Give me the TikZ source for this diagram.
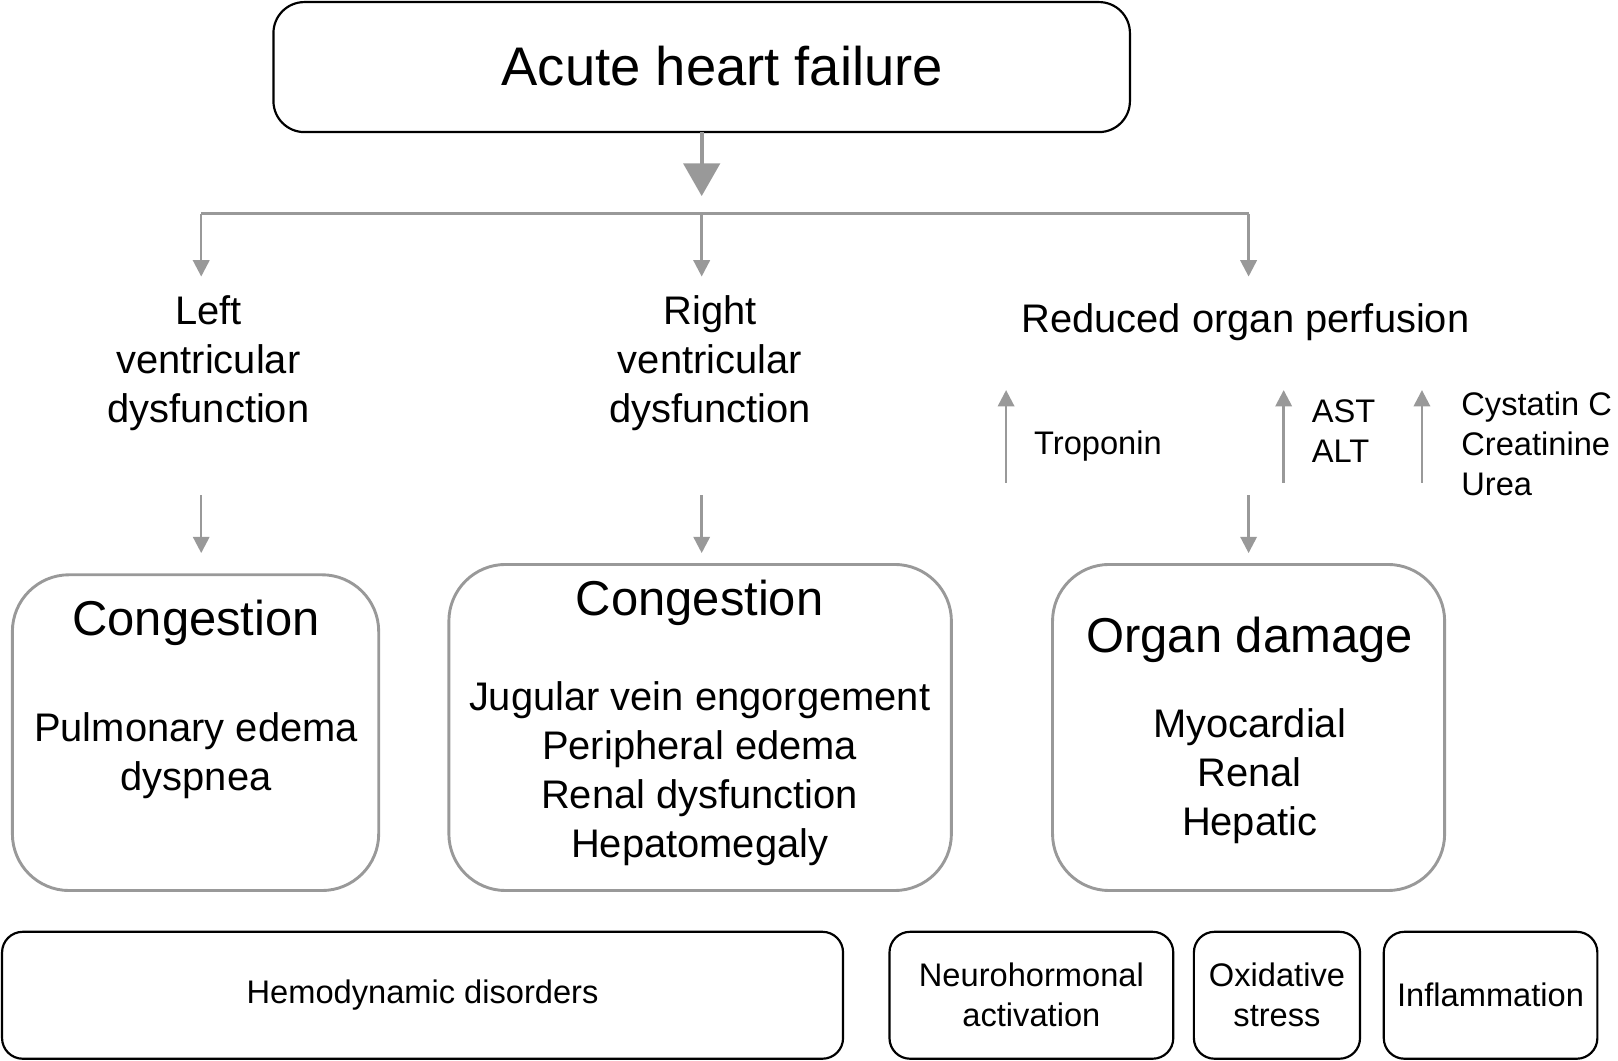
\documentclass[tikz,border=0pt]{standalone}
\usepackage{fontspec}
\setmainfont{Liberation Sans}
\usetikzlibrary{arrows.meta,positioning}
\definecolor{arrowgray}{HTML}{999999}
\begin{document}
\begin{tikzpicture}[x=0.02cm,y=-0.02cm,
    gbox/.style={draw=arrowgray,line width=1.6pt,rounded corners=1.1cm},
    kbox/.style={draw,line width=1.2pt,rounded corners=0.4cm,align=center},
    label/.style={align=center,font=\fontsize{22}{27}\selectfont},
    small/.style={align=left,font=\fontsize{18}{22}\selectfont},
    arrow/.style={draw=arrowgray,line width=1.4pt,-{Triangle[width=9pt,length=9pt]}},
    bigarrow/.style={draw=arrowgray,line width=2pt,-{Triangle[width=20pt,length=18pt]}}
]
\useasboundingbox (0,0) rectangle (1568,1028);

%--- Top box ---%
\draw[draw=black,line width=1.2pt,rounded corners=0.6cm] (265,2) rectangle (1095,128);
\node[font=\fontsize{30}{36}\selectfont] (ahf) at (700,64) {Acute heart failure};
\coordinate (split) at (680,190);
\draw[bigarrow] (680,128) -- (split);

%--- Branch line ---%
\coordinate (bl) at (195,268);
\coordinate (bm) at (680,268);
\coordinate (br) at (1210,268);
\draw[draw=arrowgray,line width=1.4pt] (195,207) -- (1210,207);
\draw[arrow] (195,207) -- (bl);
\draw[arrow] (680,207) -- (bm);
\draw[arrow] (1210,207) -- (br);

%--- Middle labels ---%
\node[label] (lvd) at (202,352) {Left\\ventricular\\dysfunction};
\node[label] (rvd) at (688,352) {Right\\ventricular\\dysfunction};
\node[label] (rop) at (1207,312) {Reduced organ perfusion};

%--- Biomarkers ---%
\draw[arrow] (975,468) -- (975,378);
\draw[arrow] (1244,468) -- (1244,378);
\draw[arrow] (1378,468) -- (1378,378);
\node[small,anchor=west] (trop) at (996,432) {Troponin};
\node[small,anchor=west] (liver) at (1265,418) {AST\\ALT};
\node[small,anchor=west] (renal) at (1410,430) {Cystatin C\\Creatinine\\Urea};

%--- Arrows to boxes ---%
\draw[arrow] (195,480) -- (195,536);
\draw[arrow] (680,480) -- (680,536);
\draw[arrow] (1210,480) -- (1210,536);

%--- Gray boxes ---%
\draw[gbox] (12,557) rectangle (367,863);
\node[label,font=\fontsize{27}{32}\selectfont] (cong1) at (190,604) {Congestion};
\node[label] (cong1t) at (190,732) {Pulmonary edema\\dyspnea};

\draw[gbox] (435,547) rectangle (922,863);
\node[label,font=\fontsize{27}{32}\selectfont] (cong2) at (678,584) {Congestion};
\node[label] (cong2t) at (678,750) {Jugular vein engorgement\\Peripheral edema\\Renal dysfunction\\Hepatomegaly};

\draw[gbox] (1020,547) rectangle (1400,863);
\node[label,font=\fontsize{27}{32}\selectfont] (organ) at (1211,620) {Organ damage};
\node[label] (organt) at (1211,752) {Myocardial\\Renal\\Hepatic};

%--- Bottom boxes ---%
\node[kbox,minimum width=815*0.02cm,minimum height=123*0.02cm,font=\fontsize{18}{22}\selectfont] (hemo) at (409.5,964.5) {Hemodynamic disorders};
\node[kbox,minimum width=275*0.02cm,minimum height=123*0.02cm,font=\fontsize{18}{22}\selectfont] (neuro) at (999.5,964.5) {Neurohormonal\\activation};
\node[kbox,minimum width=161*0.02cm,minimum height=123*0.02cm,font=\fontsize{18}{22}\selectfont] (oxid) at (1237.5,964.5) {Oxidative\\stress};
\node[kbox,minimum width=207*0.02cm,minimum height=123*0.02cm,font=\fontsize{18}{22}\selectfont] (infl) at (1444.5,964.5) {Inflammation};
\end{tikzpicture}
\end{document}
